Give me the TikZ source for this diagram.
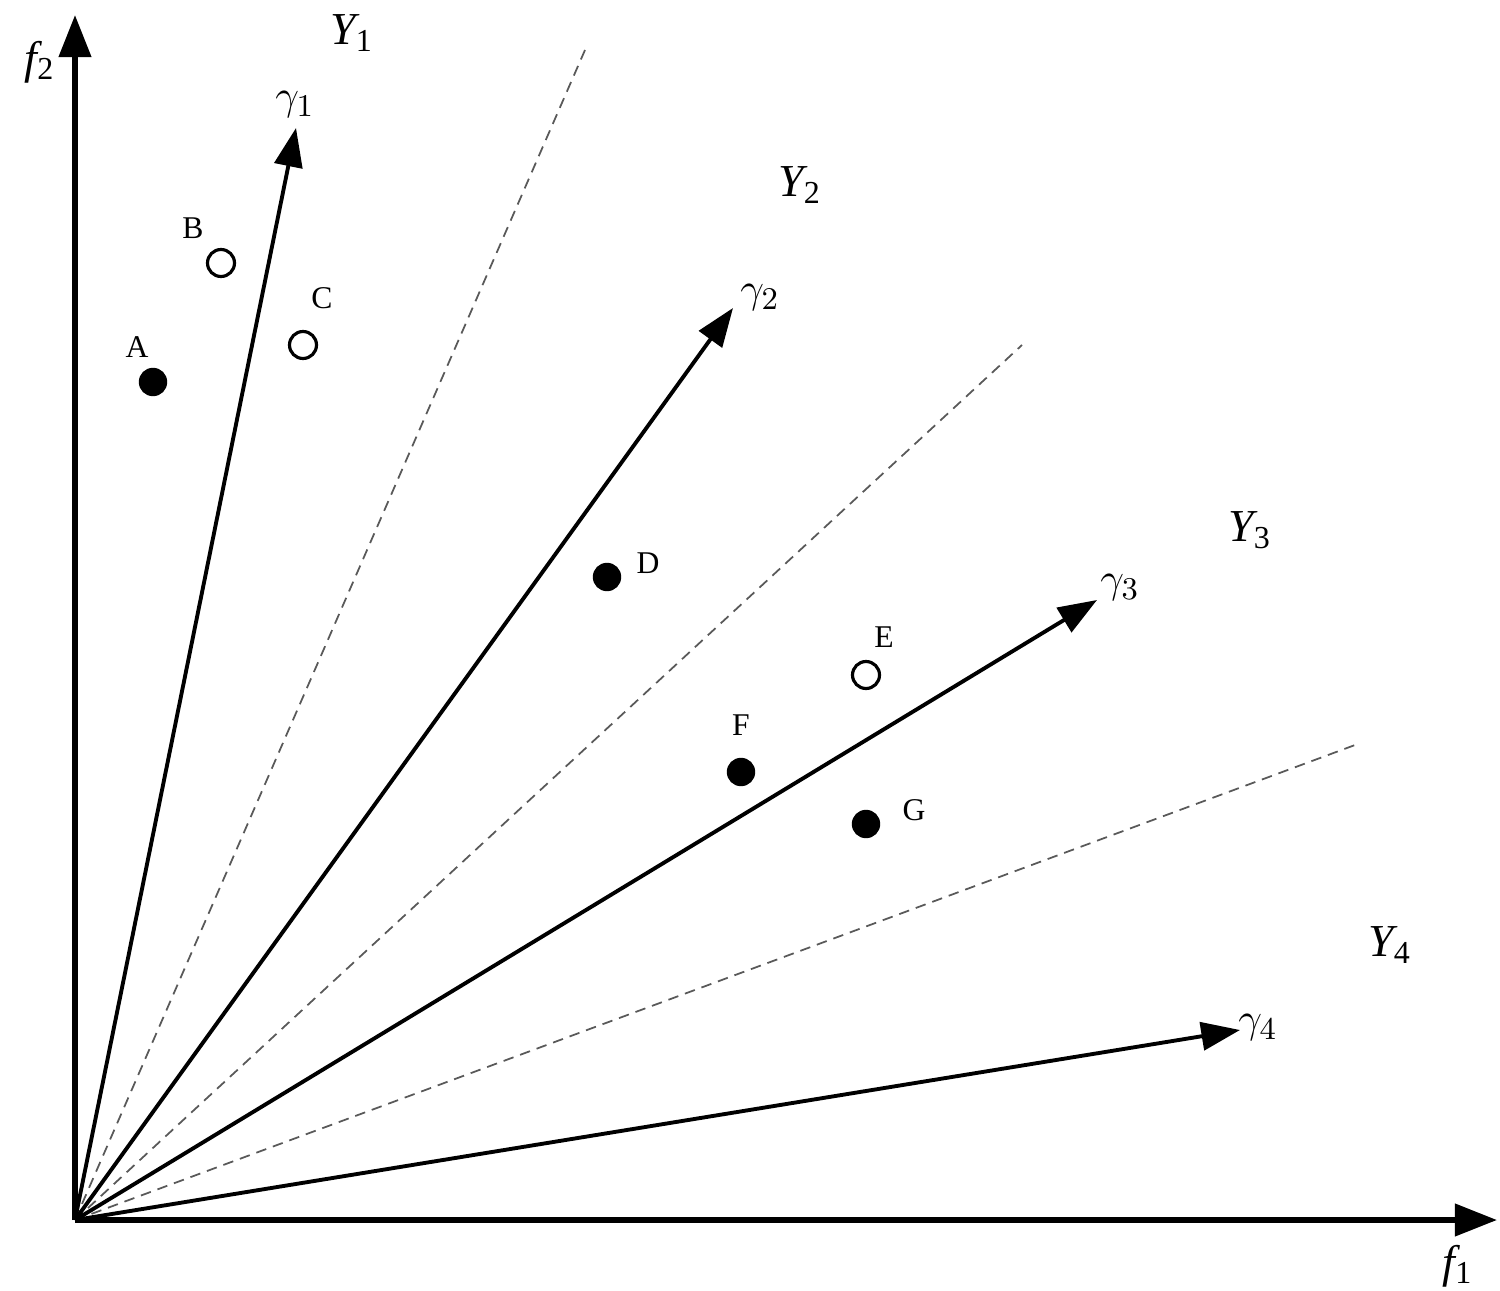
\documentclass[tikz,border=0pt]{standalone}
\usepackage{fontspec}
\setmainfont{Liberation Serif}
\usetikzlibrary{arrows.meta}
\begin{document}
\begin{tikzpicture}[x=0.01cm,y=-0.01cm,
 ax/.style={line width=1.6pt,-{Triangle[length=12pt,width=9pt]}},
 vec/.style={line width=1.1pt,-{Triangle[length=11pt,width=8pt]}},
 dsh/.style={densely dashed,line width=0.5pt,gray!70!black},
 full/.style={circle,fill=black,draw=black,minimum size=0.27cm,inner sep=0pt},
 open/.style={circle,fill=white,draw=black,line width=0.9pt,minimum size=0.27cm,inner sep=0pt},
 lab/.style={font=\fontsize{9}{10}\selectfont},
 big/.style={font=\fontsize{13}{14}\selectfont\itshape}]
\useasboundingbox (0,0) rectangle (1500,1291);
\coordinate (O) at (75,1220);
\coordinate (fy) at (75,15);
\coordinate (fx) at (1497,1220);
\coordinate (g1) at (296,128);
\coordinate (g2) at (733,308);
\coordinate (g3) at (1097,600);
\coordinate (g4) at (1240,1030);
\coordinate (d1) at (585,50);
\coordinate (d2) at (1022,345);
\coordinate (d3) at (1355,745);
\draw[dsh] (O)--(d1); \draw[dsh] (O)--(d2); \draw[dsh] (O)--(d3);
\draw[vec] (O)--(g1); \draw[vec] (O)--(g2); \draw[vec] (O)--(g3); \draw[vec] (O)--(g4);
\draw[ax] (O)--(fy); \draw[ax] (O)--(fx);
\node[full] (A) at (153,382) {}; \node[open] (B) at (221,263) {};
\node[open] (C) at (303,345) {}; \node[full] (D) at (607,577) {};
\node[open] (E) at (866,675) {}; \node[full] (F) at (741,772) {};
\node[full] (G) at (866,824) {};
\node[lab] (lA) at (137,347) {A}; \node[lab] (lB) at (193,228) {B};
\node[lab] (lC) at (322,298) {C}; \node[lab] (lD) at (648,563) {D};
\node[lab] (lE) at (884,637) {E}; \node[lab] (lF) at (741,725) {F};
\node[lab] (lG) at (914,810) {G};
\node[big] (t1) at (295,105) {\upshape$\gamma_1$};
\node[big] (t2) at (760,298) {\upshape$\gamma_2$};
\node[big] (t3) at (1120,588) {\upshape$\gamma_3$};
\node[big] (t4) at (1258,1028) {\upshape$\gamma_4$};
\node[big] (Y1) at (352,33) {Y\textsubscript{\upshape 1}};
\node[big] (Y2) at (800,185) {Y\textsubscript{\upshape 2}};
\node[big] (Y3) at (1250,530) {Y\textsubscript{\upshape 3}};
\node[big] (Y4) at (1390,945) {Y\textsubscript{\upshape 4}};
\node[big] (f2) at (40,62) {f\textsubscript{\upshape 2}};
\node[big] (f1) at (1458,1266) {f\textsubscript{\upshape 1}};
\end{tikzpicture}
\end{document}
